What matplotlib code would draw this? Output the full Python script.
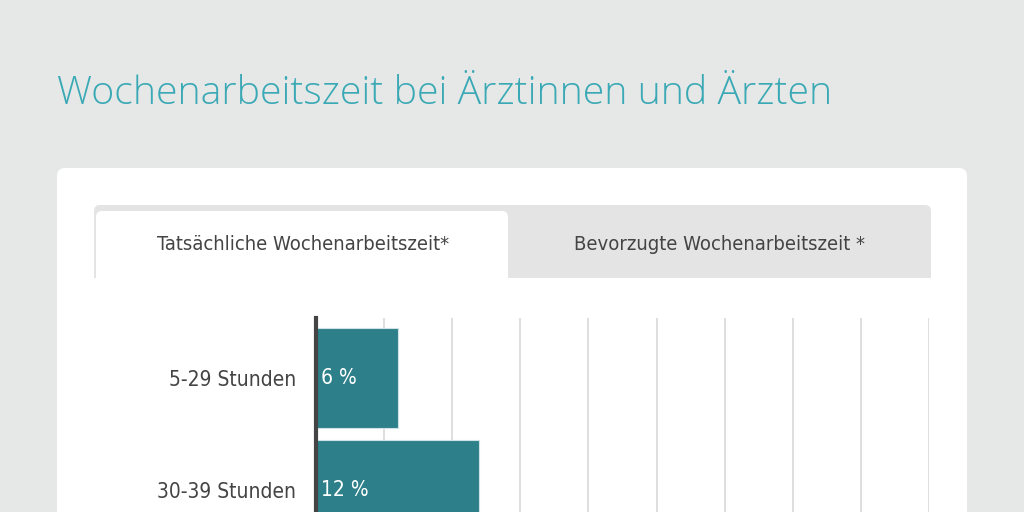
import matplotlib.pyplot as plt
from matplotlib.patches import FancyBboxPatch, Rectangle

# data
categories = ['5-29 Stunden', '30-39 Stunden']
values = [6, 12]
value_labels = ['6 %', '12 %']
tabs = ['Tatsächliche Wochenarbeitszeit*', 'Bevorzugte Wochenarbeitszeit *']
title = 'Wochenarbeitszeit bei Ärztinnen und Ärzten'

narrow = dict(family=['Liberation Sans Narrow', 'DejaVu Sans'], fontstretch='condensed')
W, H = 1024, 512

fig = plt.figure(figsize=(10.24, 5.12), dpi=100)
fig.patch.set_facecolor('#e6e8e7')


def px(x, y):
    return x / W, 1 - y / H


# card and tab bar (drawn in figure pixel coords)
bg = fig.add_axes([0, 0, 1, 1])
bg.set_xlim(0, W)
bg.set_ylim(H, 0)
bg.axis('off')
bg.add_patch(FancyBboxPatch((57, 168), 910, 400, boxstyle='round,pad=0,rounding_size=8',
                            fc='white', ec='none'))
bg.add_patch(FancyBboxPatch((94, 205), 837, 90, boxstyle='round,pad=0,rounding_size=6',
                            fc='#e4e4e4', ec='none'))
bg.add_patch(Rectangle((94, 278), 837, 30, fc='white', ec='none'))
bg.add_patch(FancyBboxPatch((96, 211), 412, 80, boxstyle='round,pad=0,rounding_size=6',
                            fc='white', ec='none'))
bg.add_patch(Rectangle((96, 278), 412, 20, fc='white', ec='none'))
bg.text(57, 104, title, fontsize=28.3, color='#3aa9b5', family=['Open Sans', 'DejaVu Sans'],
        fontweight='light', va='baseline')
bg.text(303, 244, tabs[0], fontsize=14.5, color='#444444', ha='center', va='center', **narrow)
bg.text(720, 244, tabs[1], fontsize=14.5, color='#444444', ha='center', va='center', **narrow)

# chart
x0, y0 = px(316, 512)
x1, y1 = px(929, 318)
ax = fig.add_axes([x0, y0, x1 - x0, y1 - y0])
ax.set_facecolor('none')
ypos = list(range(len(categories)))
ax.barh(ypos, values, height=100 / 112, color='#2d7f89', edgecolor='#cfe3e6', linewidth=0.8, zorder=2)
for y, v, lab in zip(ypos, values, value_labels):
    ax.text(0.35, y, lab, color='white', fontsize=15, va='center', ha='left', zorder=3, **narrow)

ax.set_xlim(0, 45)
ax.set_ylim(-0.536 + 194 / 112, -0.536)
ax.set_xticks(range(0, 46, 5))
ax.grid(axis='x', color='#d9d9d9', linewidth=1.2, zorder=0)
ax.tick_params(axis='x', length=0, labelbottom=False)
ax.set_yticks(ypos)
ax.set_yticklabels(categories, fontsize=15, color='#444444', **narrow)
ax.tick_params(axis='y', length=0, pad=14.4)
for s in ['top', 'right', 'bottom']:
    ax.spines[s].set_visible(False)
ax.spines['left'].set_color('#444444')
ax.spines['left'].set_linewidth(3)
ax.spines['left'].set_zorder(4)

fig.savefig('out.png', dpi=100, facecolor=fig.get_facecolor())
